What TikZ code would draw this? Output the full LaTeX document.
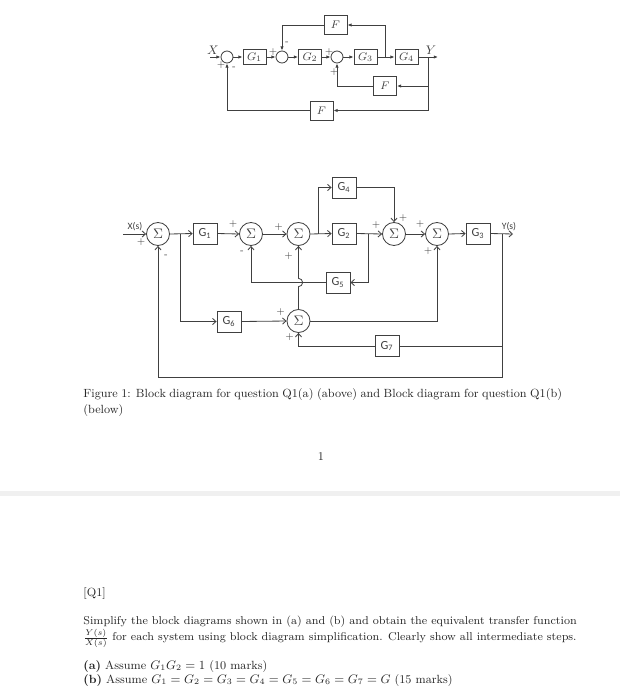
\documentclass[tikz,border=0pt]{standalone}
\usepackage{fontspec}
\newfontfamily\calib{Carlito}
\usetikzlibrary{arrows.meta}
\definecolor{lncol}{HTML}{404040}
\begin{document}
\begin{tikzpicture}[x=0.725pt, y=-0.725pt, color=lncol, line width=0.6pt,
	blka/.style={draw, minimum width=16.7pt, minimum height=11pt, inner sep=0pt, font=\footnotesize},
	blkf/.style={blka, minimum height=13.8pt},
	suma/.style={draw, circle, minimum size=8.7pt, inner sep=0pt},
	blkb/.style={draw, minimum width=17.4pt, minimum height=15.2pt, inner sep=0pt, font=\calib\small},
	sumb/.style={draw, circle, minimum size=16.7pt, inner sep=0pt, font=\calib},
	sgn/.style={font=\scriptsize, inner sep=0pt},
	arra/.style={-{Latex[length=3pt,width=2.4pt]}},
	arrb/.style={-{Straight Barb[length=2.5pt,width=4.5pt]}},
	txt/.style={text=black!85, inner sep=0pt, font=\fontsize{8.6pt}{11.6pt}\selectfont}]
	\useasboundingbox (0,0) rectangle (620,700);

	% diagram (a)
	\coordinate (xa) at (210,57);
	\node[suma] (a1) at (227,57) {};
	\node[blka] (ag1) at (254.5,57) {$G_1$};
	\node[suma] (a2) at (282,57) {};
	\node[blka] (ag2) at (310,57) {$G_2$};
	\node[suma] (a3) at (337,57) {};
	\node[blka] (ag3) at (365.5,57) {$G_3$};
	\node[blka] (ag4) at (406.5,57) {$G_4$};
	\coordinate (ab) at (385,57);
	\coordinate (ay) at (428,57);
	\coordinate (ya) at (438,57);
	\node[blkf] (af1) at (335.5,25) {$F$};
	\node[blkf] (af2) at (385,86) {$F$};
	\node[blkf] (af3) at (321.5,110.5) {$F$};

	\draw[arra] (xa) -- (a1.west);
	\draw[arra] (a1.east) -- (ag1.west);
	\draw[arra] (ag1.east) -- (a2.west);
	\draw[arra] (a2.east) -- (ag2.west);
	\draw[arra] (ag2.east) -- (a3.west);
	\draw[arra] (a3.east) -- (ag3.west);
	\draw[arra] (ag3.east) -- (ag4.west);
	\draw[arra] (ag4.east) -- (ya);
	\draw[arra] (ab) |- (af1.east);
	\draw[arra] (af1.west) -| (a2.north);
	\draw[arra] (ay) |- (af2.east);
	\draw[arra] (af2.west) -| (a3.south);
	\draw[arra] (ay) |- (af3.east);
	\draw[arra] (af3.west) -| (a1.south);

	\node[sgn] at (213,50) {\small$X$};
	\node[sgn] at (431,50) {\small$Y$};
	\node[sgn] at ([shift={(-6,8)}]a1) {+};
	\node[sgn] at ([shift={(7,11)}]a1) {-};
	\node[sgn] at ([shift={(-9,-5)}]a2) {+};
	\node[sgn] at ([shift={(5,-14)}]a2) {-};
	\node[sgn] at ([shift={(-8,-5)}]a3) {+};
	\node[sgn] at ([shift={(-3,15)}]a3) {+};

	% diagram (b)
	\coordinate (xb) at (123,234);
	\node[sumb] (s1) at (158,234) {$\Sigma$};
	\coordinate (b1) at (180,234);
	\node[blkb] (g1) at (205,233.5) {G\textsubscript{1}};
	\node[sumb] (s2) at (251,234) {$\Sigma$};
	\node[sumb] (s3) at (298.5,234) {$\Sigma$};
	\coordinate (b3) at (318,234);
	\node[blkb] (g4) at (344,187.5) {G\textsubscript{4}};
	\node[blkb] (g2) at (344,233.5) {G\textsubscript{2}};
	\coordinate (b2) at (368,234);
	\node[sumb] (s4) at (394,234) {$\Sigma$};
	\node[sumb] (s5) at (437,234) {$\Sigma$};
	\node[blkb] (g3) at (478,233.5) {G\textsubscript{3}};
	\coordinate (by) at (502,234);
	\coordinate (yb) at (513,234);
	\node[blkb] (g5) at (338,282.5) {G\textsubscript{5}};
	\node[blkb] (g6) at (229,321.5) {G\textsubscript{6}};
	\node[sumb] (s6) at (298.5,321) {$\Sigma$};
	\node[blkb] (g7) at (387,346) {G\textsubscript{7}};
	\coordinate (bl) at (502,377);

	\draw[arrb] (xb) -- (s1.west);
	\draw[arrb] (s1.east) -- (g1.west);
	\draw[arrb] (g1.east) -- (s2.west);
	\draw[arrb] (s2.east) -- (s3.west);
	\draw[arrb] (s3.east) -- (g2.west);
	\draw[arrb] (b3) |- (g4.west);
	\draw[arrb] (g2.east) -- (s4.west);
	\draw[arrb] (g4.east) -| (s4.north);
	\draw[arrb] (b2) |- (g5.east);
	\draw[arrb] (g5.west) -| (s2.south);
	\draw[arrb] (s4.east) -- (s5.west);
	\draw[arrb] (s5.east) -- (g3.west);
	\draw[arrb] (g3.east) -- (yb);
	\draw (by) |- (g7.east);
	\draw[arrb] (g7.west) -| (s6.south);
	\draw[arrb] (by) -- (bl) -| (s1.south);
	\draw[arrb] (b1) |- (g6.west);
	\draw[arrb] (g6.east) -- (s6.west);
	\draw[arrb] (s6.east) -| (s5.south);
	\draw[arrb] (s6.north) -- ([yshift=-3pt]s6.north |- g5.west)
		arc[start angle=-90, end angle=90, radius=3pt] -- (s3.south);

	\node[sgn, font=\calib\scriptsize] at (135,227) {X(s)};
	\node[sgn, font=\calib\scriptsize] at (509,227) {Y(s)};
	\node[sgn] at ([shift={(-17,8)}]s1) {+};
	\node[sgn] at ([shift={(8,22)}]s1) {-};
	\node[sgn] at ([shift={(-18,-10)}]s2) {+};
	\node[sgn] at ([shift={(-9,18)}]s2) {-};
	\node[sgn] at ([shift={(-20,-7)}]s3) {+};
	\node[sgn] at ([shift={(-10,22)}]s3) {+};
	\node[sgn] at ([shift={(-18,-9)}]s4) {+};
	\node[sgn] at ([shift={(9,-16)}]s4) {+};
	\node[sgn] at ([shift={(-17,-10)}]s5) {+};
	\node[sgn] at ([shift={(-9,17)}]s5) {+};
	\node[sgn] at ([shift={(-18,-9)}]s6) {+};
	\node[sgn] at ([shift={(-9,16)}]s6) {+};

	% caption and question
	\node[txt, anchor=north west, text width=347pt, align=justify] (cap) at (83,388)
		{Figure 1: Block diagram for question Q1(a) (above) and Block diagram for question Q1(b)\linebreak (below)};
	\node[txt, anchor=base] (pg) at (321,460) {1};
	\fill[gray!12] (0,490.5) rectangle (620,496);
	\node[txt, anchor=base west] (q1) at (83,596) {[Q1]};
	\node[txt, anchor=north west, align=left, font=\fontsize{8.25pt}{11.6pt}\selectfont] (task) at (83,616)
		{Simplify the block diagrams shown in (a) and (b) and obtain the equivalent transfer function\\ $\frac{Y(s)}{X(s)}$ for each system using block diagram simplification. Clearly show all intermediate steps.};
	\node[txt, anchor=base west] (qa) at (83,669) {\textbf{(a)} Assume $G_1G_2=1$ (10 marks)};
	\node[txt, anchor=base west] (qb) at (83,683) {\textbf{(b)} Assume $G_1=G_2=G_3=G_4=G_5=G_6=G_7=G$ (15 marks)};
\end{tikzpicture}
\end{document}
